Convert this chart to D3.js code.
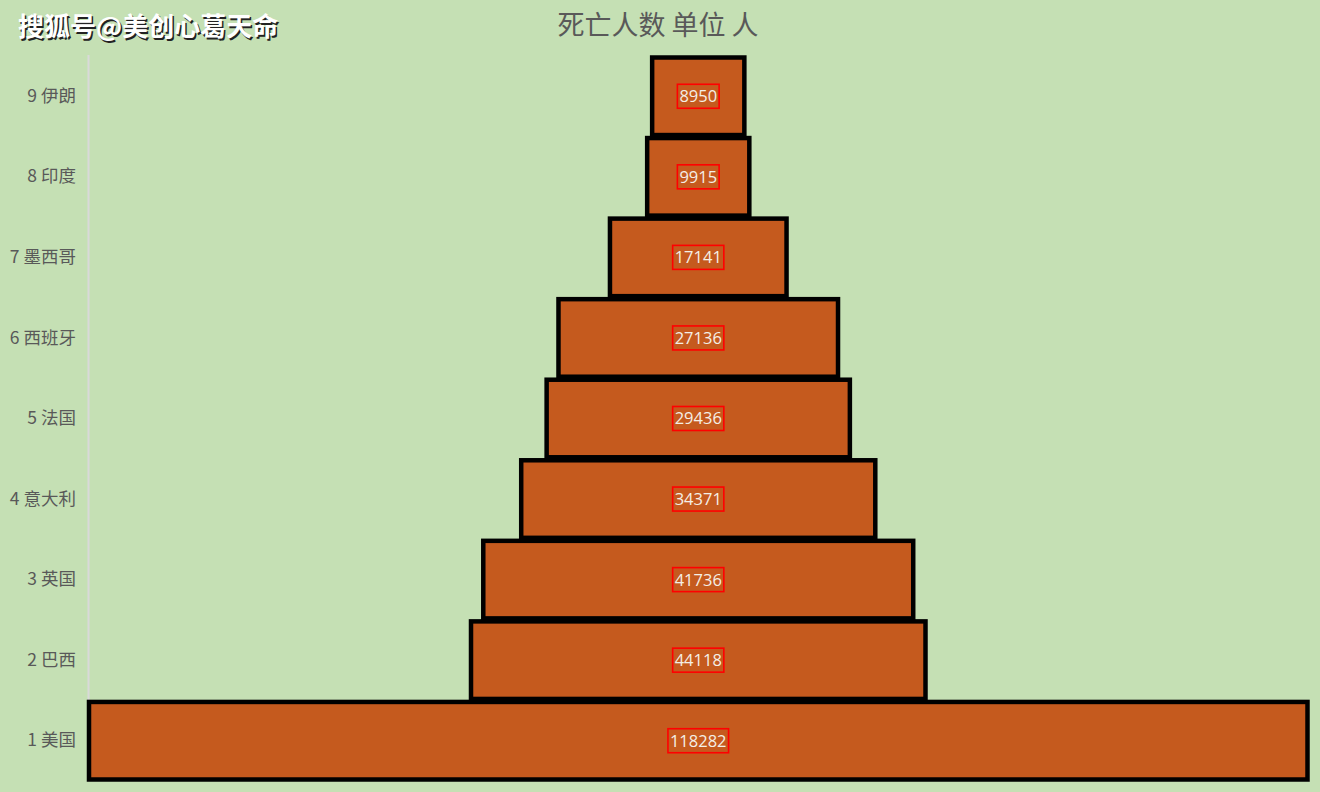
<!DOCTYPE html>
<html><head><meta charset="utf-8">
<script src="https://cdn.jsdelivr.net/npm/d3@7/dist/d3.min.js"></script>
<style>
html,body{margin:0;padding:0;background:#C5E0B4;}
svg{display:block;}
</style></head>
<body>
<svg id="chart" width="1320" height="792"></svg>
<script>
const categories = ["1 美国","2 巴西","3 英国","4 意大利","5 法国","6 西班牙","7 墨西哥","8 印度","9 伊朗"];
const values = [118282, 44118, 41736, 34371, 29436, 27136, 17141, 9915, 8950];
const title = "死亡人数 单位 人";
const watermark = "搜狐号@美创心葛天命";

const svg = d3.select("#chart");
const W = 1320, H = 792;
svg.append("rect").attr("width", W).attr("height", H).attr("fill", "#C5E0B4");

const plotLeft = 89, plotRight = 1307.5;
const center = (plotLeft + plotRight) / 2;
const w = d3.scaleLinear().domain([0, d3.max(values)]).range([0, plotRight - plotLeft]);
const y = d3.scaleBand().domain(categories.slice().reverse()).range([56, 781]).paddingInner(0).paddingOuter(0);

const data = categories.map((c, i) => ({c, v: values[i]}));

// axis line
svg.append("line").attr("x1", 88.5).attr("x2", 88.5).attr("y1", 55).attr("y2", 781)
  .attr("stroke", "#D9D9D9").attr("stroke-width", 2);

// category axis labels
const yAxis = d3.axisLeft(y).tickSize(0).tickPadding(12);
const gAxis = svg.append("g").attr("transform", "translate(88,0)").call(yAxis);
gAxis.select(".domain").remove();
gAxis.selectAll("text").attr("fill", "#595959").style("font-family", "'Noto Sans CJK SC','Noto Sans',sans-serif").style("font-size", "17.5px");

// bars
const bars = svg.append("g");
bars.selectAll("rect").data(data).join("rect")
  .attr("x", d => center - w(d.v) / 2)
  .attr("y", d => y(d.c) + 1.5)
  .attr("width", d => w(d.v))
  .attr("height", y.bandwidth() - 3)
  .attr("fill", "#C55A1E")
  .attr("stroke", "#000")
  .attr("stroke-width", 4.5);

// value labels with red boxes
const lab = svg.append("g");
data.forEach(d => {
  const cy = y(d.c) + y.bandwidth() / 2;
  const t = lab.append("text").attr("x", center).attr("y", cy).attr("dy", "0.36em")
    .attr("text-anchor", "middle").attr("fill", "#F4EFE6")
    .style("font-family", "'Open Sans','Liberation Sans',sans-serif").style("font-size", "16.5px")
    .text(d.v);
  const bb = t.node().getBBox();
  lab.insert("rect", "text").attr("x", bb.x - 2).attr("y", cy - 12).attr("width", bb.width + 4).attr("height", 24)
    .attr("fill", "none").attr("stroke", "#FF0000").attr("stroke-width", 1.6);
});

// title
svg.append("text").attr("x", 658).attr("y", 35).attr("text-anchor", "middle")
  .attr("fill", "#595959").style("font-family", "'Noto Sans CJK SC',sans-serif").style("font-size", "27px")
  .text(title);

// watermark
const wm = svg.append("g");
wm.append("text").attr("x", 19.5).attr("y", 37.5).attr("fill", "#222")
  .style("font-family", "'Noto Sans CJK SC',sans-serif").style("font-size", "26px").style("font-weight", "bold")
  .text(watermark);
wm.append("text").attr("x", 18).attr("y", 36).attr("fill", "#FFFFFF")
  .style("font-family", "'Noto Sans CJK SC',sans-serif").style("font-size", "26px").style("font-weight", "bold")
  .text(watermark);
</script>
</body></html>
